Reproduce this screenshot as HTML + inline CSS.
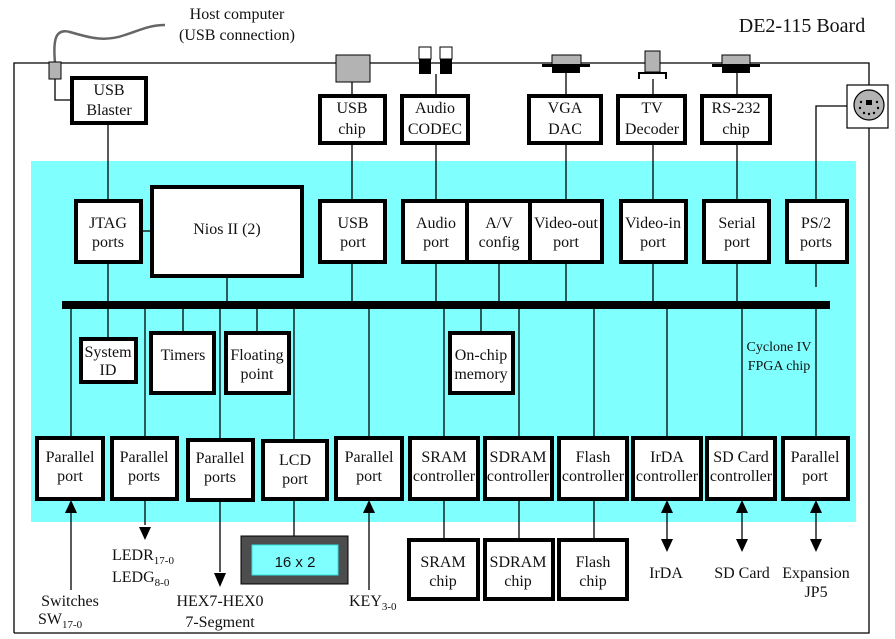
<!DOCTYPE html>
<html><head><meta charset="utf-8"><style>
html,body{margin:0;padding:0;background:#fff;}
svg{display:block;}
text{font-family:"Liberation Serif",serif;font-size:16px;fill:#111;text-anchor:middle;}
.b{fill:#fff;stroke:#000;stroke-width:4;}
.l{stroke:#000;stroke-width:1.3;fill:none;}
</style></head><body>
<svg width="895" height="639" viewBox="0 0 895 639" xmlns="http://www.w3.org/2000/svg">
<polyline class="l" points="14,633 14,63 869,63 869,85"/>
<polyline class="l" points="869,128 869,633 14,633"/>
<rect x="31" y="161" width="825" height="361" fill="#80ffff"/>
<text x="802" y="32" style="font-size:20px">DE2-115 Board</text>
<text x="237" y="19">Host computer</text>
<text x="237" y="40">(USB connection)</text>
<path d="M55,63 C53,40 55,28 70,32 C90,38 105,42 125,35 C140,30 150,25 165,25" stroke="#666" stroke-width="2.5" fill="none"/>
<rect x="49" y="62" width="12" height="17" fill="#b3b3b3" stroke="#000" stroke-width="1"/>
<polyline class="l" points="55,79 55,100 72,100"/>
<rect x="336" y="55" width="34" height="27" fill="#b3b3b3" stroke="#000" stroke-width="1"/>
<rect x="419" y="47" width="12" height="12" fill="#fff" stroke="#000" stroke-width="1"/>
<rect x="419" y="59" width="12" height="15" fill="#000"/>
<rect x="440" y="47" width="12" height="12" fill="#fff" stroke="#000" stroke-width="1"/>
<rect x="440" y="59" width="12" height="15" fill="#000"/>
<rect x="552" y="55" width="29" height="10" fill="#b3b3b3" stroke="#000" stroke-width="1"/>
<rect x="542" y="64" width="48" height="3" fill="#000"/>
<rect x="552" y="65" width="28" height="8" fill="#000"/>
<rect x="645" y="51" width="15" height="21" fill="#b3b3b3" stroke="#000" stroke-width="1"/>
<polyline points="639,79 639,73 666,73 666,79" stroke="#000" stroke-width="2" fill="none"/>
<rect x="722" y="55" width="28" height="10" fill="#b3b3b3" stroke="#000" stroke-width="1"/>
<rect x="712" y="64" width="48" height="3" fill="#000"/>
<rect x="722" y="65" width="28" height="8" fill="#000"/>
<rect x="847" y="85" width="41" height="43" fill="#fff" stroke="#000" stroke-width="1.2"/>
<circle cx="869" cy="105" r="15" fill="#b3b3b3" stroke="#000" stroke-width="1.2"/>
<rect x="866" y="100" width="6" height="5" fill="#000"/>
<g fill="#000"><circle cx="861" cy="102" r="1.2"/><circle cx="877" cy="102" r="1.2"/><circle cx="860" cy="108" r="1.2"/><circle cx="878" cy="108" r="1.2"/><circle cx="864" cy="113" r="1.2"/><circle cx="874" cy="113" r="1.2"/><circle cx="869" cy="114" r="1.2"/></g>
<polyline class="l" points="816,287 816,106 847,106"/>
<g class="l">
<line x1="108" y1="123" x2="108" y2="339"/>
<line x1="141" y1="231" x2="152" y2="231"/>
<line x1="227" y1="276" x2="227" y2="303"/>
<line x1="352" y1="82" x2="352" y2="303"/>
<line x1="436" y1="74" x2="436" y2="303"/>
<line x1="499" y1="262" x2="499" y2="303"/>
<line x1="566" y1="73" x2="566" y2="303"/>
<line x1="653" y1="79" x2="653" y2="303"/>
<line x1="737" y1="73" x2="737" y2="303"/>
<line x1="71" y1="305" x2="71" y2="438"/>
<line x1="145" y1="305" x2="145" y2="438"/>
<line x1="220" y1="305" x2="220" y2="440"/>
<line x1="294" y1="305" x2="294" y2="441"/>
<line x1="369" y1="305" x2="369" y2="438"/>
<line x1="444" y1="305" x2="444" y2="438"/>
<line x1="519" y1="305" x2="519" y2="438"/>
<line x1="594" y1="305" x2="594" y2="438"/>
<line x1="667" y1="305" x2="667" y2="438"/>
<line x1="742" y1="305" x2="742" y2="438"/>
<line x1="816" y1="305" x2="816" y2="438"/>
<line x1="183" y1="305" x2="183" y2="333"/>
<line x1="257" y1="305" x2="257" y2="333"/>
<line x1="481" y1="305" x2="481" y2="333"/>
<line x1="444" y1="499" x2="444" y2="540"/>
<line x1="519" y1="499" x2="519" y2="540"/>
<line x1="594" y1="499" x2="594" y2="540"/>
<line x1="294" y1="499" x2="294" y2="536"/>
<line x1="71" y1="510" x2="71" y2="590"/>
<line x1="145" y1="499" x2="145" y2="525"/>
<line x1="220" y1="499" x2="220" y2="572"/>
<line x1="369" y1="510" x2="369" y2="590"/>
<line x1="667" y1="510" x2="667" y2="540"/>
<line x1="742" y1="510" x2="742" y2="540"/>
<line x1="816" y1="510" x2="816" y2="540"/>
</g>
<rect x="62" y="301" width="768" height="8" fill="#000"/>
<g fill="#000">
<polygon points="71,500 65,513 77,513"/>
<polygon points="145,540 139,527 151,527"/>
<polygon points="220,587 214,573 226,573"/>
<polygon points="369,500 363,513 375,513"/>
<polygon points="667,500 661,513 673,513"/><polygon points="667,552 661,539 673,539"/>
<polygon points="742,500 736,513 748,513"/><polygon points="742,552 736,539 748,539"/>
<polygon points="816,500 810,513 822,513"/><polygon points="816,552 810,539 822,539"/>
</g>
<g class="b">
<rect x="72" y="78" width="74" height="45"/>
<rect x="320" y="96" width="65" height="47"/>
<rect x="402" y="96" width="66" height="47"/>
<rect x="529" y="96" width="72" height="47"/>
<rect x="618" y="96" width="67" height="47"/>
<rect x="702" y="96" width="68" height="47"/>
<rect x="76" y="201" width="65" height="61"/>
<rect x="152" y="187" width="150" height="89"/>
<rect x="320" y="201" width="65" height="61"/>
<rect x="403" y="201" width="64" height="61"/>
<rect x="467" y="201" width="63" height="61"/>
<rect x="530" y="201" width="72" height="61"/>
<rect x="621" y="201" width="65" height="61"/>
<rect x="704" y="201" width="65" height="61"/>
<rect x="787" y="201" width="60" height="61"/>
<rect x="81" y="339" width="55" height="43"/>
<rect x="151" y="333" width="63" height="60"/>
<rect x="226" y="333" width="63" height="60"/>
<rect x="450" y="333" width="63" height="60"/>
<rect x="37" y="438" width="66" height="61"/>
<rect x="112" y="438" width="65" height="61"/>
<rect x="188" y="440" width="65" height="60"/>
<rect x="263" y="441" width="64" height="58"/>
<rect x="336" y="438" width="66" height="61"/>
<rect x="410" y="438" width="68" height="61"/>
<rect x="485" y="438" width="67" height="61"/>
<rect x="559" y="438" width="68" height="61"/>
<rect x="633" y="438" width="68" height="61"/>
<rect x="707" y="438" width="68" height="61"/>
<rect x="783" y="438" width="65" height="61"/>
<rect x="409" y="540" width="69" height="59"/>
<rect x="485" y="540" width="68" height="59"/>
<rect x="559" y="540" width="68" height="59"/>
</g>
<rect x="241" y="536" width="107" height="48" fill="#4d4d4d" stroke="#000" stroke-width="1"/>
<rect x="252" y="545" width="86" height="30" fill="#80ffff" stroke="#33dddd" stroke-width="1"/>
<text x="295" y="567" style='font-family:"Liberation Sans",sans-serif;font-size:15px'>16 x 2</text>
<text x="109" y="95">USB</text><text x="109" y="115">Blaster</text>
<text x="352" y="113">USB</text><text x="352" y="134">chip</text>
<text x="435" y="113">Audio</text><text x="435" y="134">CODEC</text>
<text x="565" y="113">VGA</text><text x="565" y="134">DAC</text>
<text x="652" y="113">TV</text><text x="652" y="134">Decoder</text>
<text x="736" y="113">RS-232</text><text x="736" y="134">chip</text>
<text x="108" y="228">JTAG</text><text x="108" y="247">ports</text>
<text x="227" y="234">Nios II (2)</text>
<text x="353" y="228">USB</text><text x="353" y="247">port</text>
<text x="436" y="228">Audio</text><text x="436" y="247">port</text>
<text x="499" y="228">A/V</text><text x="499" y="247">config</text>
<text x="566" y="228">Video-out</text><text x="566" y="247">port</text>
<text x="653" y="228">Video-in</text><text x="653" y="247">port</text>
<text x="737" y="228">Serial</text><text x="737" y="247">port</text>
<text x="816" y="228">PS/2</text><text x="816" y="247">ports</text>
<text x="108" y="357">System</text><text x="108" y="375">ID</text>
<text x="183" y="360">Timers</text>
<text x="257" y="360">Floating</text><text x="257" y="379">point</text>
<text x="481" y="360">On-chip</text><text x="481" y="379">memory</text>
<text x="779" y="351" style="font-size:14px">Cyclone IV</text>
<text x="779" y="370" style="font-size:14px">FPGA chip</text>
<text x="70" y="462">Parallel</text><text x="70" y="481">port</text>
<text x="144" y="462">Parallel</text><text x="144" y="481">ports</text>
<text x="220" y="463">Parallel</text><text x="220" y="482">ports</text>
<text x="295" y="465">LCD</text><text x="295" y="484">port</text>
<text x="369" y="462">Parallel</text><text x="369" y="481">port</text>
<text x="444" y="462">SRAM</text><text x="444" y="481">controller</text>
<text x="518" y="462">SDRAM</text><text x="518" y="481">controller</text>
<text x="593" y="462">Flash</text><text x="593" y="481">controller</text>
<text x="667" y="462">IrDA</text><text x="667" y="481">controller</text>
<text x="741" y="462">SD Card</text><text x="741" y="481">controller</text>
<text x="815" y="462">Parallel</text><text x="815" y="481">port</text>
<text x="443" y="567">SRAM</text><text x="443" y="586">chip</text>
<text x="518" y="567">SDRAM</text><text x="518" y="586">chip</text>
<text x="593" y="567">Flash</text><text x="593" y="586">chip</text>
<text x="666" y="578">IrDA</text>
<text x="742" y="578">SD Card</text>
<text x="816" y="578">Expansion</text><text x="816" y="597">JP5</text>
<text x="70" y="606">Switches</text>
<text x="38" y="624" style="text-anchor:start">SW<tspan style="font-size:11px" dy="4">17-0</tspan></text>
<text x="112" y="560" style="text-anchor:start">LEDR<tspan style="font-size:11px" dy="4">17-0</tspan></text>
<text x="112" y="582" style="text-anchor:start">LEDG<tspan style="font-size:11px" dy="4">8-0</tspan></text>
<text x="220" y="606">HEX7-HEX0</text>
<text x="220" y="627">7-Segment</text>
<text x="349" y="606" style="text-anchor:start">KEY<tspan style="font-size:11px" dy="4">3-0</tspan></text>
</svg>
</body></html>
